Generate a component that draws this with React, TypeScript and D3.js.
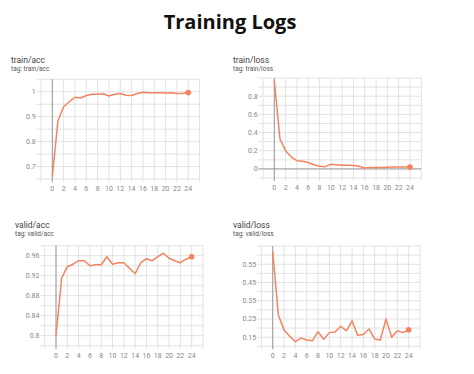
import * as d3 from "d3";
import { useEffect, useRef } from "react";

// epochs on the x axis
const steps = [0, 1, 2, 3, 4, 5, 6, 7, 8, 9, 10, 11, 12, 13, 14, 15, 16, 17, 18, 19, 20, 21, 22, 23, 24];

const trainAcc = [0.66, 0.885, 0.94, 0.96, 0.978, 0.975, 0.985, 0.99, 0.99, 0.992, 0.983, 0.99, 0.993, 0.986, 0.985, 0.993, 0.998, 0.996, 0.996, 0.996, 0.995, 0.996, 0.993, 0.993, 0.997];
const trainLoss = [0.97, 0.33, 0.2, 0.13, 0.09, 0.085, 0.07, 0.045, 0.03, 0.025, 0.05, 0.045, 0.04, 0.04, 0.038, 0.03, 0.01, 0.015, 0.015, 0.015, 0.018, 0.02, 0.02, 0.02, 0.02];
const validAcc = [0.8, 0.915, 0.938, 0.943, 0.95, 0.95, 0.94, 0.942, 0.942, 0.958, 0.943, 0.946, 0.946, 0.935, 0.924, 0.946, 0.954, 0.95, 0.958, 0.965, 0.955, 0.95, 0.946, 0.953, 0.958];
const validLoss = [0.62, 0.27, 0.19, 0.155, 0.125, 0.145, 0.135, 0.13, 0.18, 0.138, 0.175, 0.178, 0.21, 0.185, 0.24, 0.16, 0.165, 0.195, 0.14, 0.135, 0.25, 0.15, 0.185, 0.175, 0.19];

const xTicks = [0, 2, 4, 6, 8, 10, 12, 14, 16, 18, 20, 22, 24];
const trainAccTicks = [0.7, 0.8, 0.9, 1];
const trainLossTicks = [0, 0.2, 0.4, 0.6, 0.8];
const validAccTicks = [0.8, 0.84, 0.88, 0.92, 0.96];
const validLossTicks = [0.15, 0.25, 0.35, 0.45, 0.55];

const panels = [
  { name: "train/acc", values: trainAcc, ticks: trainAccTicks, yDomain: [0.65, 1.05], gridStep: 0.05,
    box: { x: 39.3, y: 79.3, w: 160.3, h: 99.7 }, title: { x: 11, y: 62.7 } },
  { name: "train/loss", values: trainLoss, ticks: trainLossTicks, yDomain: [-0.1, 1.0], gridStep: 0.1,
    box: { x: 261.3, y: 78, w: 160, h: 100 }, title: { x: 233, y: 62.7 } },
  { name: "valid/acc", values: validAcc, ticks: validAccTicks, yDomain: [0.78, 0.98], gridStep: 0.02,
    box: { x: 43, y: 245.7, w: 160, h: 100 }, title: { x: 15, y: 228 } },
  { name: "valid/loss", values: validLoss, ticks: validLossTicks, yDomain: [0.1, 0.65], gridStep: 0.05,
    box: { x: 259.7, y: 246, w: 160.3, h: 100.3 }, title: { x: 233, y: 228 } },
];

const lineColor = "#f5845e";

const redraw = (ref) => {
  const svg = d3.select(ref.current);
  svg.selectAll("*").remove();

  svg.append("rect").attr("width", 474).attr("height", 374).attr("fill", "#fff");

  svg.append("text")
    .attr("x", 230).attr("y", 29)
    .attr("text-anchor", "middle")
    .attr("font-family", "Open Sans")
    .attr("font-weight", 700)
    .attr("font-size", 20)
    .attr("fill", "#111")
    .text("Training Logs");

  panels.forEach((p) => {
    const g = svg.append("g");
    const { x, y, w, h } = p.box;
    const xScale = d3.scaleLinear().domain([-2.3, 26]).range([x, x + w]);
    const yScale = d3.scaleLinear().domain(p.yDomain).range([y + h, y]);

    g.append("text").attr("x", p.title.x).attr("y", p.title.y)
      .attr("font-family", "Roboto").attr("font-size", 8.5).attr("fill", "#444")
      .text(p.name);
    g.append("text").attr("x", p.title.x).attr("y", p.title.y + 8.3)
      .attr("font-family", "Roboto").attr("font-size", 6.5).attr("fill", "#555")
      .text("tag: " + p.name);

    // horizontal grid
    const nH = Math.round((p.yDomain[1] - p.yDomain[0]) / p.gridStep);
    const hVals = d3.range(nH + 1).map((i) => p.yDomain[0] + i * p.gridStep);
    g.selectAll(".hg").data(hVals).join("line")
      .attr("x1", x - 3).attr("x2", x + w)
      .attr("y1", (d) => yScale(d)).attr("y2", (d) => yScale(d))
      .attr("stroke", "#e2e2e2").attr("stroke-width", 1);

    // vertical grid
    const vVals = d3.range(-2, 27, 2);
    g.selectAll(".vg").data(vVals).join("line")
      .attr("x1", (d) => xScale(d)).attr("x2", (d) => xScale(d))
      .attr("y1", y).attr("y2", y + h + 3)
      .attr("stroke", "#e2e2e2").attr("stroke-width", 1);

    // zero axes
    g.append("line")
      .attr("x1", xScale(0)).attr("x2", xScale(0))
      .attr("y1", y).attr("y2", y + h + 3)
      .attr("stroke", "#9a9a9a").attr("stroke-width", 1);
    if (p.yDomain[0] < 0) {
      g.append("line")
        .attr("x1", x - 3).attr("x2", x + w)
        .attr("y1", yScale(0)).attr("y2", yScale(0))
        .attr("stroke", "#9a9a9a").attr("stroke-width", 1);
    }

    g.selectAll(".yl").data(p.ticks).join("text")
      .attr("x", x - 3.5).attr("y", (d) => yScale(d) + 2.4)
      .attr("text-anchor", "end")
      .attr("font-family", "Roboto").attr("font-size", 7).attr("fill", "#888")
      .text((d) => String(d));

    g.selectAll(".xl").data(xTicks).join("text")
      .attr("x", (d) => xScale(d)).attr("y", y + h + 12)
      .attr("text-anchor", "middle")
      .attr("font-family", "Roboto").attr("font-size", 7).attr("fill", "#888")
      .text((d) => String(d));

    const line = d3.line().x((d, i) => xScale(steps[i])).y((d) => yScale(d));
    g.append("path").attr("d", line(p.values))
      .attr("fill", "none").attr("stroke", lineColor).attr("stroke-width", 1.5)
      .attr("stroke-linejoin", "round");

    const last = p.values.length - 1;
    g.append("circle")
      .attr("cx", xScale(steps[last])).attr("cy", yScale(p.values[last]))
      .attr("r", 2.8).attr("fill", lineColor);
  });
};

export default function App() {
  const ref = useRef(null);
  useEffect(() => {
    redraw(ref);
  }, []);
  return (
    <svg ref={ref} width={474} height={374}
      style={{ position: "absolute", left: 0, top: 0, display: "block" }} />
  );
}
